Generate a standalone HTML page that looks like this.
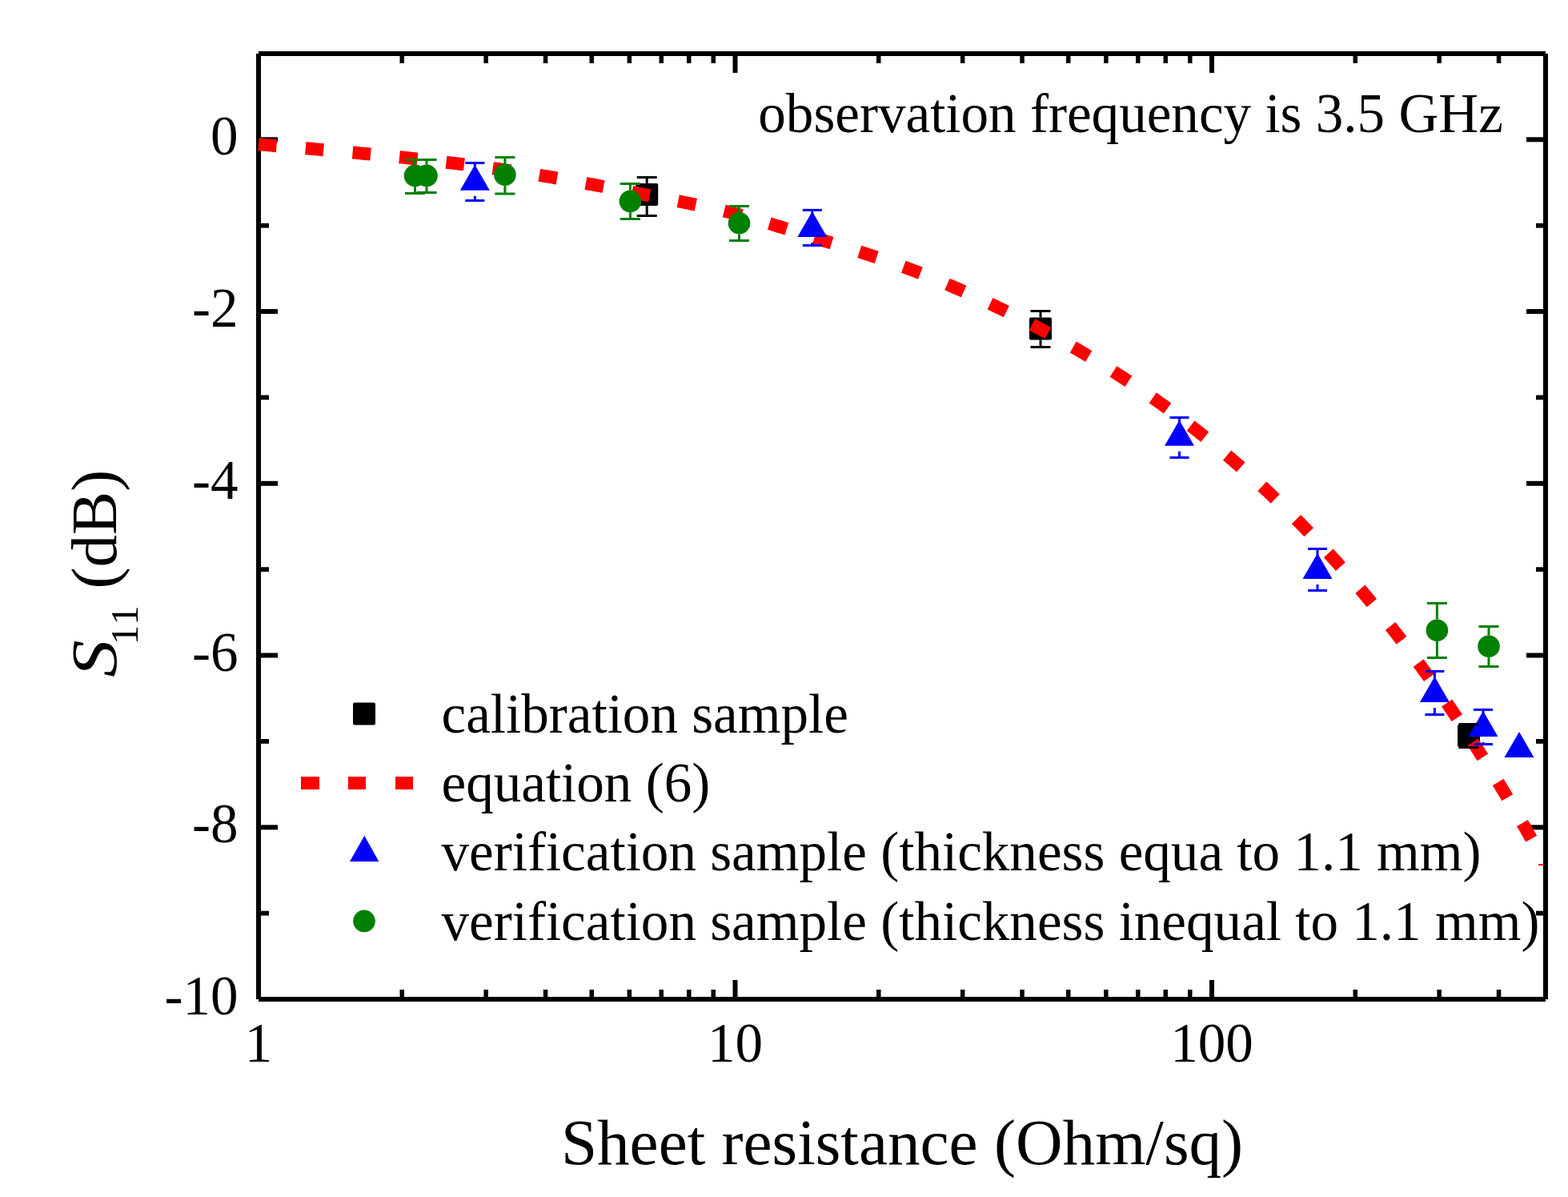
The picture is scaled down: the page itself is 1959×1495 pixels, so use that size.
<!DOCTYPE html><html><head><meta charset="utf-8"><title>S11 vs sheet resistance</title><style>
html,body{margin:0;padding:0;background:#fff;width:1959px;height:1495px;overflow:hidden}
svg{display:block}
text{font-family:"Liberation Serif","Times New Roman",serif;font-kerning:none;fill:#000}
</style></head><body>
<svg width="1959" height="1495" viewBox="0 0 1959 1495">
<rect width="1959" height="1495" fill="#fff"/>
<g fill="#000"><rect x="326" y="171.3" width="21" height="6"/><rect x="1907" y="171.3" width="21" height="6"/><rect x="326" y="386.0" width="21" height="6"/><rect x="1907" y="386.0" width="21" height="6"/><rect x="326" y="600.8" width="21" height="6"/><rect x="1907" y="600.8" width="21" height="6"/><rect x="326" y="815.5" width="21" height="6"/><rect x="1907" y="815.5" width="21" height="6"/><rect x="326" y="1030.3" width="21" height="6"/><rect x="1907" y="1030.3" width="21" height="6"/><rect x="326" y="278.8" width="10" height="5.8"/><rect x="1919" y="278.8" width="9" height="5.8"/><rect x="326" y="493.5" width="10" height="5.8"/><rect x="1919" y="493.5" width="9" height="5.8"/><rect x="326" y="708.3" width="10" height="5.8"/><rect x="1919" y="708.3" width="9" height="5.8"/><rect x="326" y="923.0" width="10" height="5.8"/><rect x="1919" y="923.0" width="9" height="5.8"/><rect x="326" y="1137.7" width="10" height="5.8"/><rect x="1919" y="1137.7" width="9" height="5.8"/><rect x="915.5" y="1224" width="6" height="21"/><rect x="915.5" y="70" width="6" height="21"/><rect x="1511.0" y="1224" width="6" height="21"/><rect x="1511.0" y="70" width="6" height="21"/><rect x="499.5" y="1236" width="5.5" height="9"/><rect x="499.5" y="70" width="5.5" height="9"/><rect x="604.4" y="1236" width="5.5" height="9"/><rect x="604.4" y="70" width="5.5" height="9"/><rect x="678.8" y="1236" width="5.5" height="9"/><rect x="678.8" y="70" width="5.5" height="9"/><rect x="736.5" y="1236" width="5.5" height="9"/><rect x="736.5" y="70" width="5.5" height="9"/><rect x="783.6" y="1236" width="5.5" height="9"/><rect x="783.6" y="70" width="5.5" height="9"/><rect x="823.5" y="1236" width="5.5" height="9"/><rect x="823.5" y="70" width="5.5" height="9"/><rect x="858.0" y="1236" width="5.5" height="9"/><rect x="858.0" y="70" width="5.5" height="9"/><rect x="888.5" y="1236" width="5.5" height="9"/><rect x="888.5" y="70" width="5.5" height="9"/><rect x="1095.0" y="1236" width="5.5" height="9"/><rect x="1095.0" y="70" width="5.5" height="9"/><rect x="1199.9" y="1236" width="5.5" height="9"/><rect x="1199.9" y="70" width="5.5" height="9"/><rect x="1274.3" y="1236" width="5.5" height="9"/><rect x="1274.3" y="70" width="5.5" height="9"/><rect x="1332.0" y="1236" width="5.5" height="9"/><rect x="1332.0" y="70" width="5.5" height="9"/><rect x="1379.1" y="1236" width="5.5" height="9"/><rect x="1379.1" y="70" width="5.5" height="9"/><rect x="1419.0" y="1236" width="5.5" height="9"/><rect x="1419.0" y="70" width="5.5" height="9"/><rect x="1453.5" y="1236" width="5.5" height="9"/><rect x="1453.5" y="70" width="5.5" height="9"/><rect x="1484.0" y="1236" width="5.5" height="9"/><rect x="1484.0" y="70" width="5.5" height="9"/><rect x="1690.5" y="1236" width="5.5" height="9"/><rect x="1690.5" y="70" width="5.5" height="9"/><rect x="1795.4" y="1236" width="5.5" height="9"/><rect x="1795.4" y="70" width="5.5" height="9"/><rect x="1869.8" y="1236" width="5.5" height="9"/><rect x="1869.8" y="70" width="5.5" height="9"/></g>
<g stroke="#000" stroke-width="6" fill="none" stroke-linecap="butt">
<line x1="323" y1="67" x2="323" y2="1248"/>
<line x1="1931" y1="67" x2="1931" y2="1248"/>
<line x1="323" y1="67" x2="1931" y2="67"/>
<line x1="323" y1="1248" x2="1931" y2="1248"/>
</g>
<g><rect x="794.2" y="228.9" width="28" height="28" rx="2" fill="#000"/><rect x="1286.0" y="396.5" width="28" height="28" rx="2" fill="#000"/><rect x="1821.0" y="905.0" width="28" height="28" rx="2" fill="#000"/></g>
<path d="M323.00,180.30 L326.22,180.56 L329.43,180.83 L332.65,181.10 L335.87,181.37 L339.09,181.64 L342.30,181.91 L345.52,182.18 M381.74,185.25 L384.96,185.53 L388.18,185.81 L391.39,186.09 L394.61,186.37 L397.82,186.65 L401.04,186.93 L404.26,187.21 M440.55,190.49 L443.76,190.79 L446.98,191.09 L450.19,191.40 L453.41,191.70 L456.62,192.01 L459.84,192.31 L463.05,192.62 M499.05,196.22 L502.27,196.56 L505.48,196.89 L508.69,197.23 L511.90,197.57 L515.11,197.92 L518.32,198.26 L521.53,198.61 M557.48,202.70 L560.69,203.08 L563.89,203.46 L567.10,203.85 L570.30,204.24 L573.51,204.64 L576.71,205.03 L579.91,205.43 M615.70,210.14 L618.90,210.58 L622.10,211.02 L625.29,211.47 L628.49,211.93 L631.69,212.39 L634.88,212.85 L638.08,213.31 M673.75,218.81 L676.94,219.33 L680.12,219.85 L683.31,220.38 L686.49,220.91 L689.68,221.45 L692.86,221.99 L696.04,222.53 M731.89,228.95 L735.07,229.54 L738.24,230.13 L741.41,230.72 L744.59,231.32 L747.76,231.91 L750.93,232.51 L754.10,233.12 M789.58,239.95 L792.75,240.56 L795.92,241.18 L799.09,241.79 L802.26,242.41 L805.43,243.02 L808.60,243.64 L811.77,244.25 M847.22,251.22 L850.39,251.85 L853.55,252.49 L856.72,253.13 L859.88,253.77 L863.05,254.41 L866.21,255.06 L869.37,255.72 M904.67,263.55 L907.81,264.31 L910.94,265.08 L914.07,265.87 L917.20,266.67 L920.33,267.48 L923.45,268.30 L926.57,269.14 M961.30,279.19 L964.39,280.14 L967.47,281.09 L970.56,282.04 L973.64,283.00 L976.72,283.96 L979.80,284.93 L982.88,285.90 M1017.48,296.89 L1020.56,297.87 L1023.64,298.83 L1026.72,299.80 L1029.80,300.76 L1032.89,301.72 L1035.97,302.67 L1039.06,303.63 M1073.74,314.36 L1076.82,315.34 L1079.89,316.32 L1082.96,317.31 L1086.03,318.31 L1089.10,319.31 L1092.17,320.33 L1095.23,321.35 M1128.82,333.19 L1131.85,334.32 L1134.87,335.45 L1137.89,336.60 L1140.91,337.75 L1143.92,338.91 L1146.93,340.07 L1149.94,341.25 M1183.43,354.99 L1186.40,356.27 L1189.36,357.55 L1192.32,358.83 L1195.28,360.13 L1198.23,361.43 L1201.19,362.73 L1204.13,364.05 M1237.02,379.24 L1239.93,380.63 L1242.84,382.03 L1245.75,383.44 L1248.65,384.84 L1251.55,386.26 L1254.45,387.68 L1257.35,389.11 M1289.40,405.39 L1292.26,406.88 L1295.12,408.39 L1297.97,409.90 L1300.82,411.42 L1303.67,412.94 L1306.51,414.47 L1309.35,416.01 M1340.73,433.55 L1343.53,435.16 L1346.32,436.78 L1349.11,438.41 L1351.89,440.04 L1354.67,441.69 L1357.45,443.33 L1360.22,444.99 M1390.99,463.97 L1393.71,465.70 L1396.43,467.45 L1399.14,469.20 L1401.85,470.95 L1404.56,472.72 L1407.26,474.49 L1409.96,476.26 M1440.18,496.85 L1442.82,498.71 L1445.46,500.58 L1448.09,502.45 L1450.71,504.33 L1453.33,506.21 L1455.95,508.10 L1458.56,510.00 M1487.59,531.80 L1490.14,533.78 L1492.69,535.76 L1495.23,537.75 L1497.77,539.75 L1500.30,541.76 L1502.83,543.77 L1505.35,545.78 M1533.11,568.68 L1535.57,570.77 L1538.03,572.86 L1540.48,574.97 L1542.92,577.08 L1545.36,579.19 L1547.80,581.31 L1550.22,583.44 M1576.84,607.43 L1579.21,609.63 L1581.57,611.83 L1583.92,614.04 L1586.27,616.25 L1588.62,618.47 L1590.96,620.69 L1593.30,622.92 M1619.47,648.62 L1621.74,650.91 L1624.01,653.21 L1626.27,655.52 L1628.53,657.83 L1630.78,660.14 L1633.03,662.46 L1635.27,664.78 M1659.79,690.89 L1661.97,693.27 L1664.15,695.66 L1666.32,698.05 L1668.48,700.44 L1670.64,702.84 L1672.80,705.25 L1674.94,707.66 M1699.32,735.71 L1701.41,738.17 L1703.49,740.64 L1705.56,743.11 L1707.64,745.59 L1709.70,748.07 L1711.76,750.56 L1713.82,753.05 M1737.14,781.98 L1739.13,784.52 L1741.12,787.07 L1743.11,789.61 L1745.09,792.16 L1747.07,794.71 L1749.04,797.27 L1751.00,799.83 M1772.23,828.11 L1774.14,830.71 L1776.05,833.32 L1777.95,835.93 L1779.85,838.54 L1781.74,841.16 L1783.63,843.78 L1785.51,846.40 M1807.63,877.92 L1809.45,880.58 L1811.28,883.25 L1813.09,885.92 L1814.91,888.59 L1816.72,891.26 L1818.52,893.94 L1820.32,896.62 M1840.19,926.80 L1841.94,929.51 L1843.69,932.23 L1845.43,934.95 L1847.17,937.67 L1848.90,940.39 L1850.63,943.12 L1852.36,945.85 M1871.64,976.89 L1873.32,979.64 L1874.99,982.40 L1876.67,985.16 L1878.33,987.93 L1880.00,990.69 L1881.66,993.46 L1883.32,996.23 M1901.97,1027.96 L1903.58,1030.76 L1905.19,1033.56 L1906.80,1036.36 L1908.40,1039.16 L1910.00,1041.96 L1911.60,1044.77 L1913.19,1047.58" fill="none" stroke="#f00" stroke-width="16" stroke-linecap="butt" stroke-linejoin="miter"/>
<rect x="1922" y="1079" width="7" height="2" fill="#f00"/>
<g><path d="M593.3,205.8 L611.8,237.8 L574.8,237.8 Z" fill="#00f"/><path d="M1014.8,264.0 L1033.3,296.0 L996.3,296.0 Z" fill="#00f"/><path d="M1473.5,524.7 L1492.0,556.7 L1455.0,556.7 Z" fill="#00f"/><path d="M1646.0,691.0 L1664.5,723.0 L1627.5,723.0 Z" fill="#00f"/><path d="M1792.4,845.0 L1810.9,877.0 L1773.9,877.0 Z" fill="#00f"/><path d="M1853.0,887.9 L1871.5,919.9 L1834.5,919.9 Z" fill="#00f"/><path d="M1898.0,914.0 L1916.5,946.0 L1879.5,946.0 Z" fill="#00f"/></g>
<g><circle cx="518.5" cy="219.4" r="13.8" fill="#008000"/><circle cx="533.0" cy="219.4" r="13.8" fill="#008000"/><circle cx="630.9" cy="218.3" r="13.8" fill="#008000"/><circle cx="787.4" cy="251.4" r="13.8" fill="#008000"/><circle cx="923.5" cy="278.7" r="13.8" fill="#008000"/><circle cx="1795.4" cy="787.2" r="13.8" fill="#008000"/><circle cx="1860.0" cy="807.3" r="13.8" fill="#008000"/></g>
<g><rect x="806.7" y="221.5" width="3" height="7.4" fill="#000"/><rect x="795.7" y="220.0" width="25" height="3" fill="#000"/><rect x="806.7" y="256.9" width="3" height="12.6" fill="#000"/><rect x="795.7" y="268.0" width="25" height="3" fill="#000"/><rect x="1298.5" y="388.5" width="3" height="8.0" fill="#000"/><rect x="1287.5" y="387.0" width="25" height="3" fill="#000"/><rect x="1298.5" y="424.5" width="3" height="9.0" fill="#000"/><rect x="1287.5" y="432.0" width="25" height="3" fill="#000"/><rect x="1833.5" y="904.5" width="3" height="0.5" fill="#000"/><rect x="1822.5" y="903.0" width="25" height="3" fill="#000"/><rect x="1833.5" y="933.0" width="3" height="0.5" fill="#000"/><rect x="1822.5" y="932.0" width="25" height="3" fill="#000"/></g>
<g><rect x="591.8" y="203.5" width="3" height="5.9" fill="#00f"/><rect x="581.3" y="202.0" width="24" height="3" fill="#00f"/><rect x="591.8" y="244.8" width="3" height="5.7" fill="#00f"/><rect x="581.3" y="249.0" width="24" height="3" fill="#00f"/><rect x="1013.3" y="262.4" width="3" height="5.2" fill="#00f"/><rect x="1002.8" y="260.9" width="24" height="3" fill="#00f"/><rect x="1013.3" y="303.0" width="3" height="3.5" fill="#00f"/><rect x="1002.8" y="305.0" width="24" height="3" fill="#00f"/><rect x="1472.0" y="521.5" width="3" height="6.8" fill="#00f"/><rect x="1461.5" y="520.0" width="24" height="3" fill="#00f"/><rect x="1472.0" y="563.7" width="3" height="7.8" fill="#00f"/><rect x="1461.5" y="570.0" width="24" height="3" fill="#00f"/><rect x="1644.5" y="685.5" width="3" height="9.1" fill="#00f"/><rect x="1634.0" y="684.0" width="24" height="3" fill="#00f"/><rect x="1644.5" y="730.0" width="3" height="7.5" fill="#00f"/><rect x="1634.0" y="736.0" width="24" height="3" fill="#00f"/><rect x="1790.9" y="838.4" width="3" height="10.2" fill="#00f"/><rect x="1780.4" y="836.9" width="24" height="3" fill="#00f"/><rect x="1790.9" y="884.0" width="3" height="8.5" fill="#00f"/><rect x="1780.4" y="891.0" width="24" height="3" fill="#00f"/><rect x="1851.5" y="886.4" width="3" height="5.1" fill="#00f"/><rect x="1841.0" y="884.9" width="24" height="3" fill="#00f"/><rect x="1851.5" y="926.9" width="3" height="2.6" fill="#00f"/><rect x="1841.0" y="928.0" width="24" height="3" fill="#00f"/></g>
<g><rect x="517.0" y="199.5" width="3" height="6.1" fill="#008000"/><rect x="506.0" y="198.0" width="25" height="3" fill="#008000"/><rect x="517.0" y="233.2" width="3" height="8.3" fill="#008000"/><rect x="506.0" y="240.0" width="25" height="3" fill="#008000"/><rect x="531.5" y="199.5" width="3" height="6.1" fill="#008000"/><rect x="520.5" y="198.0" width="25" height="3" fill="#008000"/><rect x="531.5" y="233.2" width="3" height="7.3" fill="#008000"/><rect x="520.5" y="239.0" width="25" height="3" fill="#008000"/><rect x="629.4" y="196.5" width="3" height="8.0" fill="#008000"/><rect x="618.4" y="195.0" width="25" height="3" fill="#008000"/><rect x="629.4" y="232.1" width="3" height="9.9" fill="#008000"/><rect x="618.4" y="240.5" width="25" height="3" fill="#008000"/><rect x="785.9" y="229.5" width="3" height="8.1" fill="#008000"/><rect x="774.9" y="228.0" width="25" height="3" fill="#008000"/><rect x="785.9" y="265.2" width="3" height="8.3" fill="#008000"/><rect x="774.9" y="272.0" width="25" height="3" fill="#008000"/><rect x="922.0" y="257.5" width="3" height="7.4" fill="#008000"/><rect x="911.0" y="256.0" width="25" height="3" fill="#008000"/><rect x="922.0" y="292.5" width="3" height="8.0" fill="#008000"/><rect x="911.0" y="299.0" width="25" height="3" fill="#008000"/><rect x="1793.9" y="753.4" width="3" height="20.0" fill="#008000"/><rect x="1782.9" y="751.9" width="25" height="3" fill="#008000"/><rect x="1793.9" y="801.0" width="3" height="20.5" fill="#008000"/><rect x="1782.9" y="820.0" width="25" height="3" fill="#008000"/><rect x="1858.5" y="782.5" width="3" height="11.0" fill="#008000"/><rect x="1847.5" y="781.0" width="25" height="3" fill="#008000"/><rect x="1858.5" y="821.1" width="3" height="11.4" fill="#008000"/><rect x="1847.5" y="831.0" width="25" height="3" fill="#008000"/></g>
<g font-size="69.1"><text x="297.6" y="193.3" text-anchor="end">0</text><text x="297.6" y="408.0" text-anchor="end">-2</text><text x="297.6" y="622.8" text-anchor="end">-4</text><text x="297.6" y="837.5" text-anchor="end">-6</text><text x="297.6" y="1052.3" text-anchor="end">-8</text><text x="297.6" y="1267.0" text-anchor="end">-10</text><text x="323.0" y="1325.8" text-anchor="middle">1</text><text x="918.5" y="1325.8" text-anchor="middle">10</text><text x="1514.0" y="1325.8" text-anchor="middle">100</text></g>
<text x="947.3" y="165" font-size="69.1">observation frequency is 3.5 GHz</text>
<rect x="441.0" y="877.5" width="28" height="28" rx="2" fill="#000"/>
<rect x="376" y="970" width="23" height="16" fill="#f00"/><rect x="435" y="970" width="22" height="16" fill="#f00"/><rect x="494" y="970" width="22" height="16" fill="#f00"/>
<path d="M455.3,1043.7 L473.3,1076 L437,1076 Z" fill="#00f"/>
<circle cx="455.0" cy="1150.4" r="13.8" fill="#008000"/>
<g font-size="69.1"><text x="551.5" y="914.6">calibration sample</text><text x="551.5" y="1000.9">equation (6)</text><text x="551.5" y="1087.2">verification sample (thickness equa to 1.1 mm)</text><text x="551.5" y="1173.5">verification sample (thickness inequal to 1.1 mm)</text></g>
<text x="1127" y="1453.7" font-size="81.2" text-anchor="middle">Sheet resistance (Ohm/sq)</text>
<text transform="translate(144.5,845.8) rotate(-90) scale(1.147,1)" font-size="81.2" font-style="italic">S</text>
<text transform="translate(171.8,805.2) rotate(-90)" font-size="48.8">11</text>
<text transform="translate(144.5,735.6) rotate(-90)" font-size="81.2">(dB)</text>
</svg></body></html>
